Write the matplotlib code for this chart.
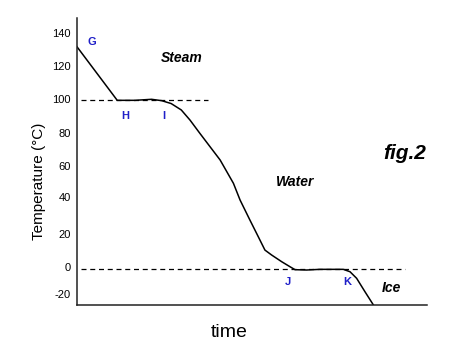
import matplotlib
matplotlib.use('Agg')
import matplotlib.pyplot as plt

# cooling curve (time in arbitrary units, temperature in deg C)
time = [0, 11.5, 16.6, 21.3, 24.2, 26.9, 29.8, 32.3, 35.1, 40.9, 44.7, 46.6,
        49.4, 51.8, 53.7, 55.6, 58.5, 60.9, 62.3, 65.6, 69.4, 76.1, 78.0, 79.9,
        82.3, 84.7]
temp = [131.7, 100, 100, 100.6, 99.8, 98.1, 94.3, 88.3, 80.5, 64.7, 50.9, 41,
        29.2, 19.3, 11.4, 8.5, 4.5, 1.5, -0.2, -0.4, 0, 0, -1.4, -5.3,
        -13.3, -21.1]

ytick_pos = [-14.6, 1.4, 20.9, 42.8, 61.1, 80.7, 100.6, 120.3, 139.6]
ytick_labels = ['-20', '0', '20', '40', '60', '80', '100', '120', '140']

points = ['G', 'H', 'I', 'J', 'K']
point_xy = [(4.2, 134.7), (13.7, 90.7), (24.9, 90.7), (60.3, -7.5), (77.1, -7.5)]

phases = ['Steam', 'Water', 'Ice']
phase_xy = [(30, 125), (62.3, 51.7), (89.9, -11.1)]

plt.rcParams['font.family'] = ['Liberation Sans', 'DejaVu Sans']

fig = plt.figure(figsize=(4.74, 3.61), dpi=100)
ax = fig.add_axes([0.1624, 0.1551, 0.7384, 0.795])

ax.plot(time, temp, color='black', linewidth=1.1)
ax.plot([1.1, 37.4], [100, 100], color='black', linewidth=0.9, dashes=(4, 3))
ax.plot([1.1, 93.7], [0, 0], color='black', linewidth=0.9, dashes=(4, 3))

for name, (x, y) in zip(points, point_xy):
    ax.text(x, y, name, color='#1f1fc8', fontsize=8, fontweight='bold',
            ha='center', va='center')
for name, (x, y) in zip(phases, phase_xy):
    ax.text(x, y, name, color='black', fontsize=10, fontweight='bold',
            style='italic', ha='center', va='center')
ax.text(93.7, 68.8, 'fig.2', fontsize=15, fontweight='bold', style='italic',
        ha='center', va='center')

ax.set_xlim(0, 100)
ax.set_ylim(-21.1, 148.7)
ax.set_xticks([])
ax.set_yticks(ytick_pos)
ax.set_yticklabels(ytick_labels)
ax.tick_params(axis='y', length=0, pad=4.5, labelsize=8)
for s in ['top', 'right']:
    ax.spines[s].set_visible(False)
for s in ['left', 'bottom']:
    ax.spines[s].set_linewidth(1.1)
    ax.spines[s].set_color('#222222')

ax.set_ylabel('Temperature (°C)', fontsize=11)
ax.yaxis.set_label_coords(-0.089, 0.432)
ax.set_xlabel('time', fontsize=14)
ax.xaxis.set_label_coords(0.434, -0.066)

fig.savefig('out.png', dpi=100)
